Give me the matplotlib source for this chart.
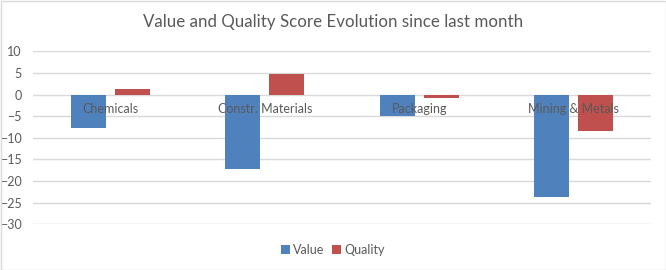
import numpy as np
import matplotlib.pyplot as plt
from matplotlib.patches import Rectangle

# data
categories = ["Chemicals", "Constr. Materials", "Packaging", "Mining & Metals"]
value = [-7.8, -17.2, -4.9, -23.7]
quality = [1.2, 4.7, -0.9, -8.4]

blue = "#4F81BD"
red = "#C0504D"
grey_txt = "#595959"

plt.rcParams['font.family'] = ['Lato', 'DejaVu Sans']

fig = plt.figure(figsize=(6.66, 2.7), dpi=100)
ax = fig.add_axes([33 / 666, 45.7 / 270, 618 / 666, 173 / 270])

x = np.arange(len(categories))
w = 0.227
off = 0.142
ax.bar(x - off, value, w, color=blue, label="Value", zorder=2)
ax.bar(x + off, quality, w, color=red, label="Quality", zorder=2)

ax.set_xlim(-0.5, len(categories) - 0.5)
ax.set_ylim(-30, 10)
ax.set_yticks(np.arange(-30, 11, 5))
ax.yaxis.grid(True, color="#D9D9D9", linewidth=1, zorder=0)
ax.set_xticks([])
ax.tick_params(axis='y', length=0, labelsize=9, colors=grey_txt, pad=8)
for s in ax.spines.values():
    s.set_visible(False)

# category labels sit just under the zero line
for xi, name in zip(x, categories):
    ax.text(xi, -3.4, name, ha='center', va='center', fontsize=9,
            color=grey_txt, zorder=3)

fig.text(0.5, 0.92, "Value and Quality Score Evolution since last month",
         ha='center', va='center', fontsize=12.2, color=grey_txt)

fig.legend(loc='center', bbox_to_anchor=(0.5, 1 - 250 / 270),
           ncol=2, frameon=False, fontsize=9, handlelength=0.7,
           handleheight=0.7, handletextpad=0.3, columnspacing=0.6,
           labelcolor=grey_txt)

fig.patches.append(Rectangle((0.5 / 666, 0.5 / 270), 665 / 666, 269 / 270,
                             transform=fig.transFigure, fill=False,
                             edgecolor="#D9D9D9", linewidth=1))

fig.savefig("out.png", dpi=100)
